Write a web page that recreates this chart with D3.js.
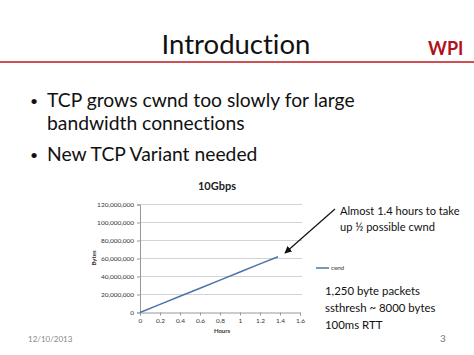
<!DOCTYPE html>
<html>
<head>
<meta charset="utf-8">
<script src="https://cdn.jsdelivr.net/npm/d3@7"></script>
<style>
  body { margin: 0; background: #fff; }
  svg { display: block; font-family: Lato, "Open Sans", sans-serif; font-variant-ligatures: none; }
</style>
</head>
<body>
<div class="slide"></div>
<script>
// Slide size
var width = 474;
var height = 355;

// Chart data
var hours = [0, 0.2, 0.4, 0.6, 0.8, 1, 1.2, 1.38];
var cwndBytes = [0, 9000000, 18000000, 27000000, 36000000, 45000000, 54000000, 62000000];
var xTicks = [0, 0.2, 0.4, 0.6, 0.8, 1, 1.2, 1.4, 1.6];
var yTicks = [0, 20000000, 40000000, 60000000, 80000000, 100000000, 120000000];
var bullets = [["TCP grows cwnd too slowly for large", "bandwidth connections"], ["New TCP Variant needed"]];
var notes = ["1,250 byte packets", "ssthresh ~ 8000 bytes", "100ms RTT"];

var svg = d3.select('.slide')
  .append('svg')
  .attr('width', width)
  .attr('height', height);

// Title + header rule
svg.append('text')
  .attr('x', 236)
  .attr('y', 54)
  .attr('text-anchor', 'middle')
  .attr('font-size', 27.5)
  .attr('fill', '#111')
  .text('Introduction');

svg.append('text')
  .attr('x', 428)
  .attr('y', 55)
  .attr('font-size', 18)
  .attr('font-weight', 'bold')
  .attr('fill', '#b0121b')
  .text('WPI');

svg.append('line')
  .attr('x1', 0).attr('x2', width)
  .attr('y1', 62).attr('y2', 62)
  .style('stroke', '#c0141c')
  .style('stroke-width', 1.5);

// Bullets (wrapped lines kept in one text element)
var by = 107;
bullets.forEach(function(lines) {
  svg.append('text')
    .attr('x', 30).attr('y', by - 1)
    .attr('font-size', 14)
    .attr('fill', '#111')
    .text('\u2022');
  var t = svg.append('text')
    .attr('x', 47).attr('y', by)
    .attr('font-size', 19.3)
    .attr('fill', '#111');
  lines.forEach(function(l, i) {
    t.append('tspan')
      .attr('x', 47)
      .attr('dy', i === 0 ? 0 : 22.5)
      .text(l);
  });
  by += lines.length * 22.5 + 8.5;
});

// Chart
var x = d3.scaleLinear().domain([0, 1.6]).range([140, 300]);
var y = d3.scaleLinear().domain([0, 120000000]).range([312.5, 204.5]);

svg.append('text')
  .attr('x', 217).attr('y', 190)
  .attr('text-anchor', 'middle')
  .attr('font-size', 11)
  .attr('font-weight', 'bold')
  .attr('fill', '#222')
  .text('10Gbps');

svg.append('g')
  .selectAll('line')
  .data(yTicks.slice(1))
  .enter()
  .append('line')
  .attr('x1', x(0)).attr('x2', x(1.6) + 2)
  .attr('y1', d => y(d)).attr('y2', d => y(d))
  .style('stroke', '#c8c8c8')
  .style('stroke-width', 0.8);

var yAxis = svg.append('g')
  .attr('transform', 'translate(' + x(0) + ',0)')
  .call(d3.axisLeft(y).tickValues(yTicks).tickSize(3).tickPadding(3).tickFormat(d3.format(',')));

var xAxis = svg.append('g')
  .attr('transform', 'translate(0,' + y(0) + ')')
  .call(d3.axisBottom(x).tickValues(xTicks).tickSize(3).tickPadding(3).tickFormat(d => d));

[yAxis, xAxis].forEach(function(a) {
  a.select('.domain').style('stroke', '#999');
  a.selectAll('.tick line').style('stroke', '#999');
  a.selectAll('text')
    .attr('font-size', 6.5)
    .attr('font-family', 'Lato, sans-serif')
    .attr('fill', '#333');
});

svg.append('text')
  .attr('transform', 'translate(96,258) rotate(-90)')
  .attr('text-anchor', 'middle')
  .attr('font-size', 6)
  .attr('font-weight', 'bold')
  .attr('fill', '#333')
  .text('Bytes');

svg.append('text')
  .attr('x', 222).attr('y', 333)
  .attr('text-anchor', 'middle')
  .attr('font-size', 6)
  .attr('font-weight', 'bold')
  .attr('fill', '#333')
  .text('Hours');

var line = d3.line()
  .x((d, i) => x(hours[i]))
  .y(d => y(d));

svg.append('path')
  .datum(cwndBytes)
  .attr('d', line)
  .style('fill', 'none')
  .style('stroke', '#4a74ad')
  .style('stroke-width', 1.5);

// Legend
svg.append('line')
  .attr('x1', 316).attr('x2', 329)
  .attr('y1', 268).attr('y2', 268)
  .style('stroke', '#4a74ad')
  .style('stroke-width', 1.5);
svg.append('text')
  .attr('x', 331).attr('y', 270)
  .attr('font-size', 5.5)
  .attr('fill', '#333')
  .text('cwnd');

// Annotation arrow
svg.append('defs').append('marker')
  .attr('id', 'arrow')
  .attr('viewBox', '0 0 10 10')
  .attr('refX', 9).attr('refY', 5)
  .attr('markerWidth', 6).attr('markerHeight', 6)
  .attr('orient', 'auto')
  .append('path')
  .attr('d', 'M0,0 L10,5 L0,10 z')
  .attr('fill', '#111');

svg.append('line')
  .attr('x1', 335).attr('y1', 209)
  .attr('x2', 285).attr('y2', 253)
  .attr('marker-end', 'url(#arrow)')
  .style('stroke', '#111')
  .style('stroke-width', 1.2);

svg.append('text')
  .attr('x', 340).attr('y', 215)
  .attr('font-size', 11.1)
  .attr('fill', '#111')
  .text('Almost 1.4 hours to take');
svg.append('text')
  .attr('x', 340).attr('y', 231)
  .attr('font-size', 11.1)
  .attr('fill', '#111')
  .text('up \u00bd possible cwnd');

notes.forEach(function(n, i) {
  svg.append('text')
    .attr('x', 325).attr('y', 295 + i * 17)
    .attr('font-size', 11.4)
    .attr('fill', '#111')
    .text(n);
});

// Footer
svg.append('text')
  .attr('x', 28).attr('y', 342)
  .attr('font-size', 8)
  .attr('fill', '#888')
  .text('12/10/2013');
svg.append('text')
  .attr('x', 440).attr('y', 342)
  .attr('font-size', 10)
  .attr('fill', '#777')
  .text('3');
</script>
</body>
</html>
